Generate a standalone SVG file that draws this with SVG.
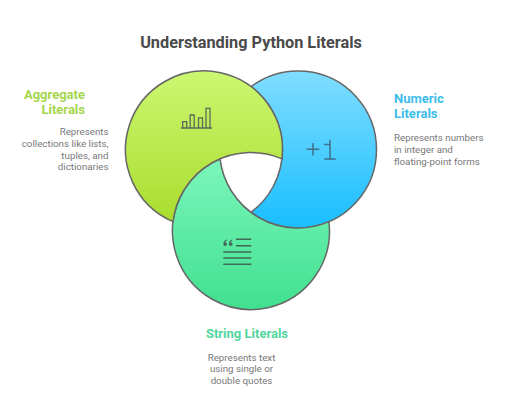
<svg xmlns="http://www.w3.org/2000/svg" width="510" height="420" viewBox="0 0 510 420">
<style>
text{font-family:Roboto,"Liberation Sans",sans-serif}
.t{font-size:16.3px;font-weight:700;fill:#4a4a4a;text-anchor:middle}
.h{font-size:13px;font-weight:700}
.d{font-size:9.75px;fill:#777}
.e{text-anchor:end}.m{text-anchor:middle}
.c{stroke:#666;stroke-width:1.5;stroke-linejoin:round}
.i{fill:none;stroke:#5c6a5c;stroke-width:1.3}
</style>
<defs>
<linearGradient id="gg" gradientUnits="userSpaceOnUse" x1="0" y1="71" x2="0" y2="228"><stop offset="0" stop-color="#CCF771"/><stop offset="1" stop-color="#A8DB2B"/></linearGradient>
<linearGradient id="gb" gradientUnits="userSpaceOnUse" x1="0" y1="71" x2="0" y2="228"><stop offset="0" stop-color="#80DDFF"/><stop offset="1" stop-color="#19BEFF"/></linearGradient>
<linearGradient id="gt" gradientUnits="userSpaceOnUse" x1="0" y1="152" x2="0" y2="309"><stop offset="0" stop-color="#7FF7BD"/><stop offset="1" stop-color="#40E08F"/></linearGradient>
</defs>
<text class="t" x="251" y="48">Understanding Python Literals</text>
<g id="connectors"></g>
<g id="numeric">
<path class="c" fill="url(#gb)" d="M251 86.63A78.5 78.5 0 1 1 251 212.37A78.5 78.5 0 0 0 251 86.63Z"/>
<path class="i" style="stroke:#3f6f88;stroke-width:1.5" d="M306.7 149.3H319.3M313 143V155.5M324.3 144.5H330M330 139.7V159M324.3 159H335.7"/>
<text class="h" x="394" y="102.5" fill="#3BBDEB">Numeric</text>
<text class="h" x="394" y="118" fill="#3BBDEB">Literals</text>
<text class="d" x="394" y="141">Represents numbers</text>
<text class="d" x="394" y="153">in integer and</text>
<text class="d" x="394" y="164.5">floating-point forms</text>
</g>
<g id="string">
<path class="c" fill="url(#gt)" d="M220.06 158.85A78.5 78.5 0 1 0 328.94 221.65A78.5 78.5 0 0 1 220.06 158.85Z"/>
<path class="i" style="stroke:#3f6b58;stroke-width:1.4" d="M236 239.3H251.3M236 245.7H251.3M223.3 252H251.3M223.3 258H251.3M223.3 264.3H251.3"/>
<path fill="#3f6b58" d="M226.5 239.5C224.5 240.5 223.4 242 223.4 243.8C223.4 245.2 224.3 246 225.3 246C226.3 246 227 245.2 227 244.3C227 243.3 226.3 242.6 225.2 242.6C225.4 241.6 226 240.8 227 240.2ZM232 239.5C230 240.5 228.9 242 228.9 243.8C228.9 245.2 229.8 246 230.8 246C231.8 246 232.5 245.2 232.5 244.3C232.5 243.3 231.8 242.6 230.7 242.6C230.9 241.6 231.5 240.8 232.5 240.2Z"/>
<text class="h m" x="247" y="337.5" fill="#4FD69C">String Literals</text>
<text class="d m" x="241.5" y="360.5">Represents text</text>
<text class="d m" x="241.5" y="372">using single or</text>
<text class="d m" x="241.5" y="384">double quotes</text>
</g>
<g id="aggregate">
<path class="c" fill="url(#gg)" d="M173.06 221.65A78.5 78.5 0 1 1 281.94 158.85A78.5 78.5 0 0 0 173.06 221.65Z"/>
<path class="i" d="M181 128H212M182.7 128V121.7H186.7V128M190.2 128V115H194.2V128M198.5 128V117.8H202.5V128M206 128V108.3H210V128"/>
<text class="h e" x="85" y="98.5" fill="#A5D64C">Aggregate</text>
<text class="h e" x="85" y="114" fill="#A5D64C">Literals</text>
<text class="d e" x="108.5" y="135">Represents</text>
<text class="d e" x="108.5" y="147">collections like lists,</text>
<text class="d e" x="108.5" y="158.5">tuples, and</text>
<text class="d e" x="108.5" y="170">dictionaries</text>
</g>
</svg>
